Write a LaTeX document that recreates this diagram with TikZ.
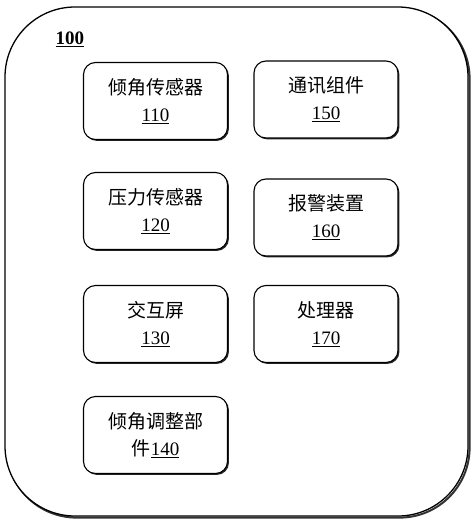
\documentclass[tikz,border=0pt]{standalone}
\usepackage{fontspec}
\setmainfont{Liberation Serif}
\newfontfamily\cjk{Noto Sans CJK SC}
\usetikzlibrary{shadows}
\newcommand{\refnum}[1]{\underline{#1}}
\begin{document}
\begin{tikzpicture}[x=1pt,y=-1pt,
        part/.style={draw,line width=1.1pt,rounded corners=12pt,fill=white,
            minimum width=144pt,minimum height=77pt,align=center,
            font=\fontsize{19}{27}\selectfont,
            drop shadow={shadow xshift=1.4pt,shadow yshift=-1.4pt,opacity=1,fill=black!85}}]
        \useasboundingbox (0,0) rectangle (474,522);
        % outer housing
        \draw[line width=2pt,black!80,rounded corners=70pt] (6.6,8.6) rectangle (469.6,517.6);
        \draw[line width=1.3pt,fill=white,rounded corners=70pt] (5,7) rectangle (468,516);
        \node[font=\fontsize{19}{22}\selectfont\bfseries,anchor=west] (sys) at (52,39) {\refnum{100}};
        % left column
        \node[part] (tilt)  at (155.5,101) {{\cjk 倾角传感器}\\\refnum{110}};
        \node[part] (press) at (155.5,211) {{\cjk 压力传感器}\\\refnum{120}};
        \node[part] (scr)   at (155.5,324) {{\cjk 交互屏}\\\refnum{130}};
        \node[part] (adj)   at (155.5,435) {{\cjk 倾角调整部}\\{\cjk 件}\refnum{140}};
        % right column
        \node[part] (comm)  at (326,99.5)  {{\cjk 通讯组件}\\\refnum{150}};
        \node[part] (alarm) at (326,217.5) {{\cjk 报警装置}\\\refnum{160}};
        \node[part] (cpu)   at (326,324)   {{\cjk 处理器}\\\refnum{170}};
    \end{tikzpicture}
\end{document}
